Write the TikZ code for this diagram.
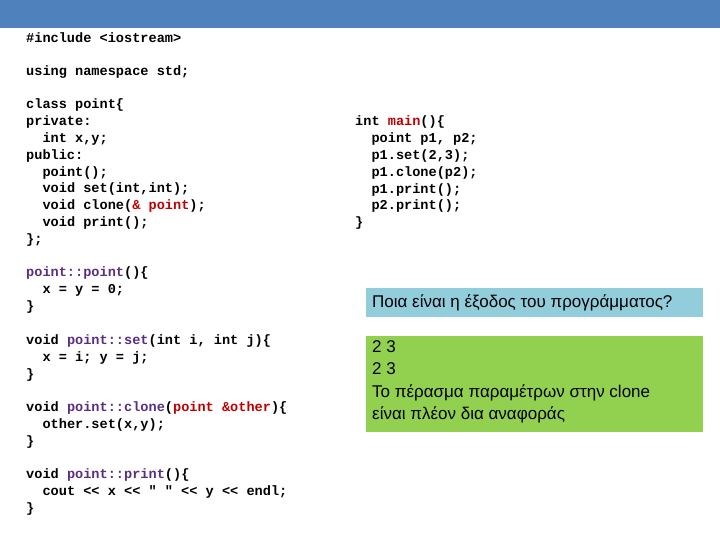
\documentclass[tikz,border=0pt]{standalone}
\usepackage{fontspec}
\setmainfont{Liberation Sans}
\newfontfamily\codefont{Liberation Mono}
\definecolor{barblue}{HTML}{4F81BD}
\definecolor{qblue}{HTML}{92CDDC}
\definecolor{agreen}{HTML}{92D050}
\definecolor{kwpurple}{HTML}{5A2D82}
\definecolor{kwred}{HTML}{C00000}
\newcommand{\pu}[1]{\textcolor{kwpurple}{#1}}
\newcommand{\rd}[1]{\textcolor{kwred}{#1}}
\begin{document}
\begin{tikzpicture}[x=1pt,y=-1pt,
  code/.style={anchor=west,inner sep=0pt,font=\codefont\bfseries\fontsize{13.6}{16}\selectfont},
  gr/.style={anchor=north west,inner sep=0pt,font=\fontsize{17}{22.5}\selectfont,align=left}]
\useasboundingbox (0,0) rectangle (720,540);
\fill[barblue] (0,0) rectangle (720,28);
\node[code] (l1) at (26,38) {\#include <iostream>};
\node[code] (l2) at (26,72) {using namespace std;};
\node[code] (l3) at (26,105) {class point\{};
\node[code] (l4) at (26,122) {private:};
\node[code] (l5) at (26,139) {\ \ int x,y;};
\node[code] (l6) at (26,156) {public:};
\node[code] (l7) at (26,173) {\ \ point();};
\node[code] (l8) at (26,189) {\ \ void set(int,int);};
\node[code] (l9) at (26,206) {\ \ void clone(\rd{\& point});};
\node[code] (l10) at (26,223) {\ \ void print();};
\node[code] (l11) at (26,240) {\};};
\node[code] (m1) at (26,273) {\pu{point::point}()\{};
\node[code] (m2) at (26,290) {\ \ x = y = 0;};
\node[code] (m3) at (26,307) {\}};
\node[code] (m4) at (26,341) {void \pu{point::set}(int i, int j)\{};
\node[code] (m5) at (26,358) {\ \ x = i; y = j;};
\node[code] (m6) at (26,375) {\}};
\node[code] (m7) at (26,408) {void \pu{point::clone}(\rd{point \&other})\{};
\node[code] (m8) at (26,425) {\ \ other.set(x,y);};
\node[code] (m9) at (26,442) {\}};
\node[code] (m10) at (26,475) {void \pu{point::print}()\{};
\node[code] (m11) at (26,492) {\ \ cout << x << " " << y << endl;};
\node[code] (m12) at (26,509) {\}};
\node[code] (n1) at (355,122) {int \rd{main}()\{};
\node[code] (n2) at (355,139) {\ \ point p1, p2;};
\node[code] (n3) at (355,156) {\ \ p1.set(2,3);};
\node[code] (n4) at (355,173) {\ \ p1.clone(p2);};
\node[code] (n5) at (355,190) {\ \ p1.print();};
\node[code] (n6) at (355,206) {\ \ p2.print();};
\node[code] (n7) at (355,223) {\}};
\fill[qblue] (366,288) rectangle (703,317);
\node[anchor=west,inner sep=0pt,font=\fontsize{17}{20}\selectfont] (q) at (372,302.5) {Ποια είναι η έξοδος του προγράμματος?};
\fill[agreen] (366,336) rectangle (703,432);
\node[gr] (a) at (372,340) {2 3\\2 3\\Το πέρασμα παραμέτρων στην clone\\είναι πλέον δια αναφοράς};
\end{tikzpicture}
\end{document}
